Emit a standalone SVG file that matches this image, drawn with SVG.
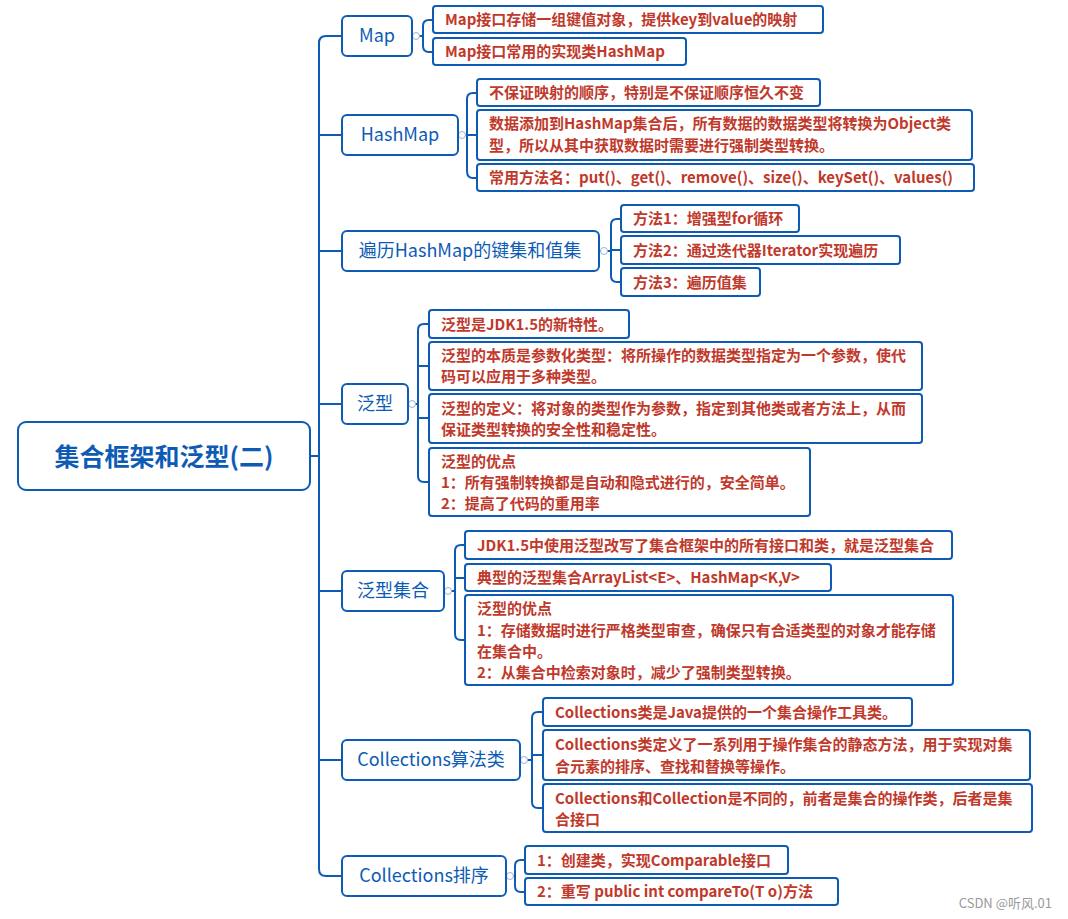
<svg xmlns="http://www.w3.org/2000/svg" width="1068" height="919" viewBox="0 0 1068 919">
<style>
.n rect{fill:#fff;stroke:#0d5bb5;stroke-width:2}
.c{fill:none;stroke:#0d5bb5;stroke-width:2}
.k{fill:#fff;stroke:#9bb3d6;stroke-width:1}
.t1{font-family:"Microsoft YaHei","Noto Sans CJK SC",sans-serif;font-size:18px;fill:#0d5bb5}
.t2{font-family:"Noto Sans CJK SC",sans-serif;font-size:15px;font-weight:bold;fill:#c0392b}
</style>
<rect width="1068" height="919" fill="#fff"/>
<g id="connectors">
<path class="c" d="M310 456H319M342 36H326Q319 36 319 43V869Q319 876 326 876H342M319 135H342M319 251H342M319 404H342M319 591H342M319 760H342"/>
<path class="c" d="M412 36H423M433 20H429Q423 20 423 26V46Q423 52 429 52H433"/>
<path class="c" d="M458 135H467M477 93H473Q467 93 467 99V171Q467 178 473 178H477M467 135H477"/>
<path class="c" d="M599 251H611M621 219H617Q611 219 611 225V276Q611 282 617 282H621M611 250H621"/>
<path class="c" d="M408 404H418M429 324H424Q418 324 418 330V476Q418 482 424 482H429M418 366H429M418 418H429"/>
<path class="c" d="M444 591H455M465 545H461Q455 545 455 551V634Q455 640 461 640H465M455 578H465"/>
<path class="c" d="M520 760H532M543 712H538Q532 712 532 718V802Q532 808 538 808H543M532 755H543"/>
<path class="c" d="M506 876H515M525 860H521Q515 860 515 866V886Q515 892 521 892H525"/>
<circle class="k" cx="416" cy="36" r="3.5"/><circle class="k" cx="462" cy="135" r="3.5"/><circle class="k" cx="604" cy="251" r="3.5"/><circle class="k" cx="412" cy="404" r="3.5"/><circle class="k" cx="448" cy="591" r="3.5"/><circle class="k" cx="524" cy="760" r="3.5"/><circle class="k" cx="510" cy="876" r="3.5"/>
</g>
<g id="root" class="n"><rect x="18" y="422" width="292" height="68" rx="8" stroke-width="2.5"/><text x="164" y="466" text-anchor="middle" font-family="Noto Sans CJK SC,sans-serif" font-size="25" font-weight="bold" fill="#0d5bb5">集合框架和泛型(二)</text></g>
<g id="map" class="n"><rect x="342" y="16" width="70" height="40" rx="5"/><text class="t1" x="377" y="42" text-anchor="middle">Map</text></g>
<g id="hashmap" class="n"><rect x="342" y="115" width="116" height="40" rx="5"/><text class="t1" x="400" y="141" text-anchor="middle">HashMap</text></g>
<g id="traverse" class="n"><rect x="342" y="231" width="257" height="40" rx="5"/><text class="t1" x="470" y="257" text-anchor="middle">遍历HashMap的键集和值集</text></g>
<g id="generic" class="n"><rect x="342" y="384" width="66" height="40" rx="5"/><text class="t1" x="375" y="410" text-anchor="middle">泛型</text></g>
<g id="genericset" class="n"><rect x="342" y="571" width="102" height="40" rx="5"/><text class="t1" x="393" y="597" text-anchor="middle">泛型集合</text></g>
<g id="collalg" class="n"><rect x="342" y="740" width="178" height="40" rx="5"/><text class="t1" x="431" y="766" text-anchor="middle">Collections算法类</text></g>
<g id="collsort" class="n"><rect x="342" y="856" width="164" height="40" rx="5"/><text class="t1" x="424" y="882" text-anchor="middle">Collections排序</text></g>
<g id="m1" class="n"><rect x="433" y="6" width="390" height="27" rx="3"/><text class="t2" x="445" y="25">Map接口存储一组键值对象，提供key到value的映射</text></g>
<g id="m2" class="n"><rect x="433" y="38" width="253" height="27" rx="3"/><text class="t2" x="445" y="57">Map接口常用的实现类HashMap</text></g>
<g id="h1" class="n"><rect x="477" y="79" width="343" height="27" rx="3"/><text class="t2" x="489" y="98">不保证映射的顺序，特别是不保证顺序恒久不变</text></g>
<g id="h2" class="n"><rect x="477" y="110" width="495" height="50" rx="3"/><text class="t2" x="489" y="129">数据添加到HashMap集合后，所有数据的数据类型将转换为Object类</text><text class="t2" x="489" y="151">型，所以从其中获取数据时需要进行强制类型转换。</text></g>
<g id="h3" class="n"><rect x="477" y="164" width="497" height="27" rx="3"/><text class="t2" x="489" y="183">常用方法名：put()、get()、remove()、size()、keySet()、values()</text></g>
<g id="t1" class="n"><rect x="621" y="205" width="178" height="27" rx="3"/><text class="t2" x="633" y="224">方法1：增强型for循环</text></g>
<g id="t2" class="n"><rect x="621" y="236" width="279" height="28" rx="3"/><text class="t2" x="633" y="256">方法2：通过迭代器Iterator实现遍历</text></g>
<g id="t3" class="n"><rect x="621" y="268" width="139" height="28" rx="3"/><text class="t2" x="633" y="288">方法3：遍历值集</text></g>
<g id="g1" class="n"><rect x="429" y="310" width="200" height="28" rx="3"/><text class="t2" x="441" y="330">泛型是JDK1.5的新特性。</text></g>
<g id="g2" class="n"><rect x="429" y="342" width="493" height="48" rx="3"/><text class="t2" x="441" y="361">泛型的本质是参数化类型：将所操作的数据类型指定为一个参数，使代</text><text class="t2" x="441" y="382">码可以应用于多种类型。</text></g>
<g id="g3" class="n"><rect x="429" y="394" width="493" height="49" rx="3"/><text class="t2" x="441" y="414">泛型的定义：将对象的类型作为参数，指定到其他类或者方法上，从而</text><text class="t2" x="441" y="435">保证类型转换的安全性和稳定性。</text></g>
<g id="g4" class="n"><rect x="429" y="448" width="381" height="68" rx="3"/><text class="t2" x="441" y="467">泛型的优点</text><text class="t2" x="441" y="488">1：所有强制转换都是自动和隐式进行的，安全简单。</text><text class="t2" x="441" y="509">2：提高了代码的重用率</text></g>
<g id="s1" class="n"><rect x="465" y="531" width="487" height="28" rx="3"/><text class="t2" x="477" y="551">JDK1.5中使用泛型改写了集合框架中的所有接口和类，就是泛型集合</text></g>
<g id="s2" class="n"><rect x="465" y="564" width="366" height="27" rx="3"/><text class="t2" x="477" y="583">典型的泛型集合ArrayList&lt;E&gt;、HashMap&lt;K,V&gt;</text></g>
<g id="s3" class="n"><rect x="465" y="595" width="488" height="90" rx="3"/><text class="t2" x="477" y="614">泛型的优点</text><text class="t2" x="477" y="636">1：存储数据时进行严格类型审查，确保只有合适类型的对象才能存储</text><text class="t2" x="477" y="657">在集合中。</text><text class="t2" x="477" y="678">2：从集合中检索对象时，减少了强制类型转换。</text></g>
<g id="a1" class="n"><rect x="543" y="698" width="369" height="28" rx="3"/><text class="t2" x="555" y="718">Collections类是Java提供的一个集合操作工具类。</text></g>
<g id="a2" class="n"><rect x="543" y="730" width="487" height="50" rx="3"/><text class="t2" x="555" y="750">Collections类定义了一系列用于操作集合的静态方法，用于实现对集</text><text class="t2" x="555" y="772">合元素的排序、查找和替换等操作。</text></g>
<g id="a3" class="n"><rect x="543" y="784" width="489" height="48" rx="3"/><text class="t2" x="555" y="804">Collections和Collection是不同的，前者是集合的操作类，后者是集</text><text class="t2" x="555" y="825">合接口</text></g>
<g id="o1" class="n"><rect x="525" y="846" width="263" height="28" rx="3"/><text class="t2" x="537" y="866">1：创建类，实现Comparable接口</text></g>
<g id="o2" class="n"><rect x="525" y="878" width="313" height="27" rx="3"/><text class="t2" x="537" y="897">2：重写 public int compareTo(T o)方法</text></g>
<text x="1052" y="908" text-anchor="end" font-family="Noto Sans CJK SC,sans-serif" font-size="13" fill="#999">CSDN @听风.01</text>
</svg>
